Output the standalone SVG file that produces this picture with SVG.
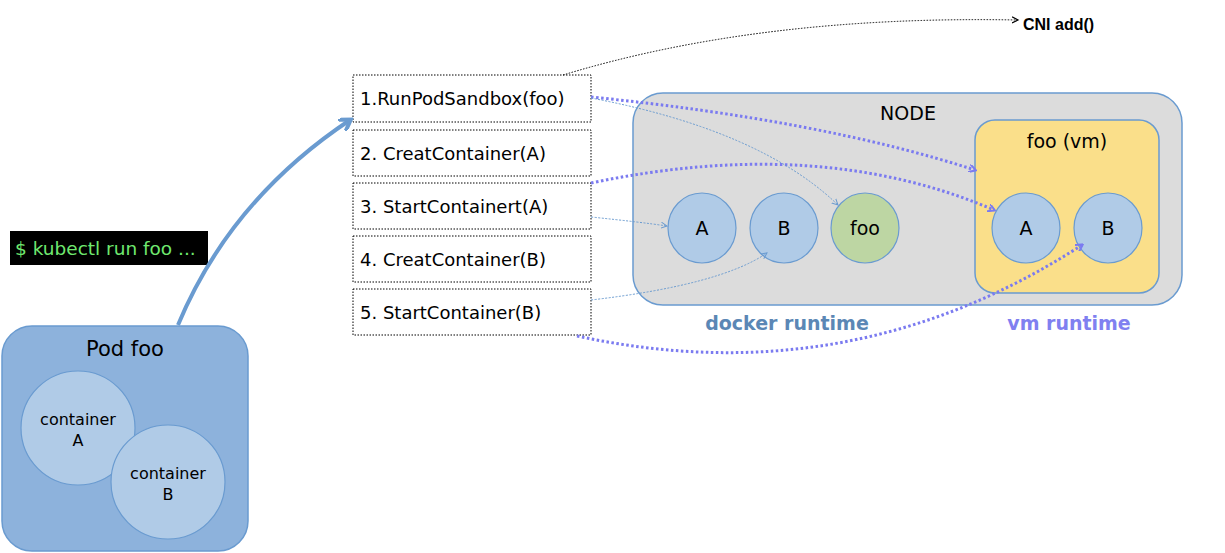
<svg xmlns="http://www.w3.org/2000/svg" width="1225" height="553" viewBox="0 0 1225 553">
<style>
text{font-family:"DejaVu Sans","Liberation Sans",sans-serif;fill:#000}
.step{fill:#fff;stroke:#000;stroke-width:1;stroke-dasharray:1.5 1.5}
.st{font-size:18px}
.bc{fill:#b0cbe7;stroke:#6a9bd0;stroke-width:1.2}
.c{text-anchor:middle;font-size:19px}
.sm{font-size:16px}
.thick{fill:none;stroke:#7b7bf0;stroke-width:3;stroke-dasharray:2.5 2.5}
.thin{fill:none;stroke:#6a9bd0;stroke-width:1;stroke-dasharray:2 1.5}
</style>
<defs>
<marker id="mb" markerWidth="8" markerHeight="8" refX="6" refY="4" orient="auto" markerUnits="userSpaceOnUse"><path d="M0,0 L7,4 L0,8" fill="none" stroke="#7b7bf0" stroke-width="2"/></marker>
<marker id="mt" markerWidth="8" markerHeight="8" refX="6" refY="4" orient="auto" markerUnits="userSpaceOnUse"><path d="M0,1 L6,4 L0,7" fill="none" stroke="#6a9bd0" stroke-width="1"/></marker>
<marker id="mk" markerWidth="8" markerHeight="8" refX="6" refY="4" orient="auto" markerUnits="userSpaceOnUse"><path d="M0,1 L6,4 L0,7" fill="none" stroke="#000" stroke-width="1.2"/></marker>
<marker id="mthick" markerWidth="14" markerHeight="14" refX="10" refY="7" orient="auto" markerUnits="userSpaceOnUse"><path d="M0,0 L11,7 L0,14" fill="none" stroke="#6a9bd0" stroke-width="4"/></marker>
</defs>
<g id="pod">
<rect x="2" y="326" width="246" height="225" rx="30" fill="#8db2dc" stroke="#6a9bd0" stroke-width="1.5"/>
<text x="125" y="356" class="c" style="font-size:21px">Pod foo</text>
<circle cx="78" cy="428" r="57" class="bc"/>
<text x="78" y="425" class="c sm">container</text>
<text x="78" y="446" class="c sm">A</text>
<circle cx="168" cy="482" r="57" class="bc"/>
<text x="168" y="479" class="c sm">container</text>
<text x="168" y="500" class="c sm">B</text>
</g>
<g id="kubectl">
<rect x="10" y="231" width="198" height="34" fill="#000"/>
<text x="15" y="255" font-size="18.5" style="fill:#6fe86f">$ kubectl run foo ...</text>
</g>
<g id="node">
<rect x="633" y="93" width="549" height="212" rx="30" fill="#dcdcdc" stroke="#6a9bd0" stroke-width="1.5"/>
<text x="908" y="120" class="c">NODE</text>
<ellipse cx="702" cy="228" rx="34" ry="35" class="bc"/><text x="702" y="235" class="c">A</text>
<ellipse cx="784" cy="228" rx="34" ry="35" class="bc"/><text x="784" y="235" class="c">B</text>
<ellipse cx="865" cy="228" rx="34" ry="35" fill="#bdd6a3" stroke="#6a9bd0" stroke-width="1.2"/><text x="865" y="235" class="c">foo</text>
</g>
<g id="vm">
<rect x="975" y="120" width="184" height="173" rx="20" fill="#fadf8a" stroke="#6a9bd0" stroke-width="1.5"/>
<text x="1067" y="148" class="c">foo (vm)</text>
<ellipse cx="1026" cy="228" rx="34" ry="35" class="bc"/><text x="1026" y="235" class="c">A</text>
<ellipse cx="1108" cy="228" rx="34" ry="35" class="bc"/><text x="1108" y="235" class="c">B</text>
</g>
<text x="787" y="330" class="c" font-weight="bold" style="fill:#5b87b5">docker runtime</text>
<text x="1069" y="330" class="c" font-weight="bold" style="fill:#8080f0">vm runtime</text>
<text x="1023" y="30" font-weight="bold" style="font-family:'Liberation Sans',sans-serif;font-size:16px">CNI add()</text>
<g id="steps">
<g id="s1"><rect x="353" y="75" width="238" height="47" class="step"/><text x="360" y="105" class="st">1.RunPodSandbox(foo)</text></g>
<g id="s2"><rect x="353" y="130" width="238" height="46" class="step"/><text x="360" y="160" class="st">2. CreatContainer(A)</text></g>
<g id="s3"><rect x="353" y="183" width="238" height="46" class="step"/><text x="360" y="213" class="st">3. StartContainert(A)</text></g>
<g id="s4"><rect x="353" y="236" width="238" height="46" class="step"/><text x="360" y="266" class="st">4. CreatContainer(B)</text></g>
<g id="s5"><rect x="353" y="289" width="238" height="46" class="step"/><text x="360" y="319" class="st">5. StartContainer(B)</text></g>
</g>
<g id="connectors">
<path d="M178,325 Q230,200 350,120" fill="none" stroke="#6a9bd0" stroke-width="4" marker-end="url(#mthick)"/>
<path d="M563,75 Q760,15 1018,20" fill="none" stroke="#000" stroke-width="1" stroke-dasharray="1.5 1.5" marker-end="url(#mk)"/>
<path d="M591,97 Q820,120 975,170" class="thick" marker-end="url(#mb)"/>
<path d="M591,183 Q820,135 994,210" class="thick" marker-end="url(#mb)"/>
<path d="M577,336 Q850,395 1082,245" class="thick" marker-end="url(#mb)"/>
<path d="M591,98 Q760,130 838,205" class="thin" marker-end="url(#mt)"/>
<path d="M591,217 Q640,222 667,226" class="thin" marker-end="url(#mt)"/>
<path d="M591,300 Q720,285 767,253" class="thin" marker-end="url(#mt)"/>
</g>
</svg>
